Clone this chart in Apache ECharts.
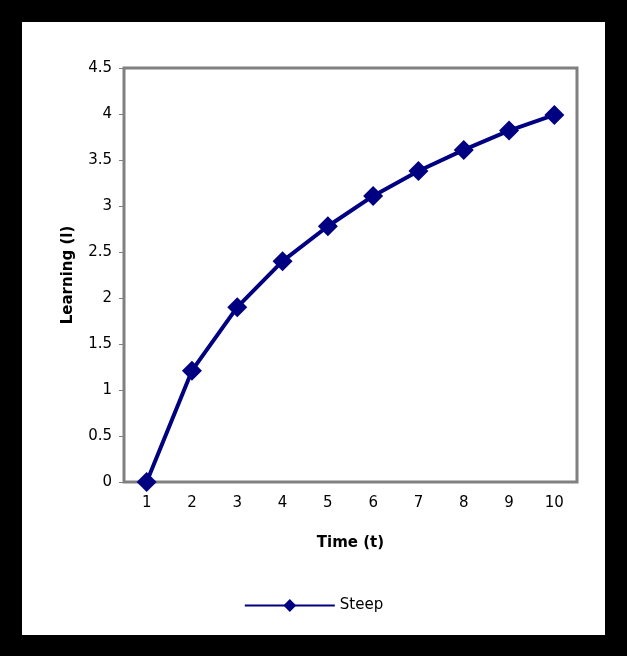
<!DOCTYPE html>
<html><head><meta charset="utf-8">
<script src="https://cdn.jsdelivr.net/npm/echarts@6/dist/echarts.min.js"></script>
<style>html,body{margin:0;padding:0;background:#000}#c{width:627px;height:656px}</style>
</head><body><div id="c"></div>
<script>
const categories = ['1','2','3','4','5','6','7','8','9','10'];
const steep = [0, 1.21, 1.90, 2.40, 2.78, 3.11, 3.38, 3.61, 3.82, 3.99];
const font = 'DejaVu Sans';
const chart = echarts.init(document.getElementById('c'));
chart.setOption({
  backgroundColor: '#000',
  animation: false,
  graphic: [{type:'rect', left:22, top:22, shape:{width:583, height:613}, style:{fill:'#fff'}, z:-10}],
  grid: {left:124, top:68, width:453, height:414, show:true, borderColor:'#808080', borderWidth:3, backgroundColor:'#fff'},
  xAxis: {type:'category', data:categories, boundaryGap:true,
    name:'Time (t)', nameLocation:'middle', nameGap:54,
    nameTextStyle:{fontFamily:font, fontWeight:'bold', fontSize:15, color:'#000'},
    axisLine:{show:false}, axisTick:{show:false},
    axisLabel:{fontFamily:font, fontSize:15, color:'#000', margin:14}},
  yAxis: {type:'value', min:0, max:4.5, interval:0.5,
    name:'Learning (l)', nameLocation:'middle', nameGap:48,
    nameTextStyle:{fontFamily:font, fontWeight:'bold', fontSize:15, color:'#000'},
    splitLine:{show:false}, axisLine:{show:false}, axisTick:{show:true, length:5, lineStyle:{color:'#808080'}},
    axisLabel:{fontFamily:font, fontSize:15, color:'#000', margin:12}},
  legend: {bottom:38, left:'center', itemWidth:90, itemHeight:16,
    textStyle:{fontFamily:font, fontSize:15, color:'#000'},
    data:['Steep']},
  series: [{name:'Steep', type:'line', data:steep, symbol:'diamond', symbolSize:20,
    lineStyle:{color:'#000080', width:4}, itemStyle:{color:'#000080'}}]
});
</script></body></html>
